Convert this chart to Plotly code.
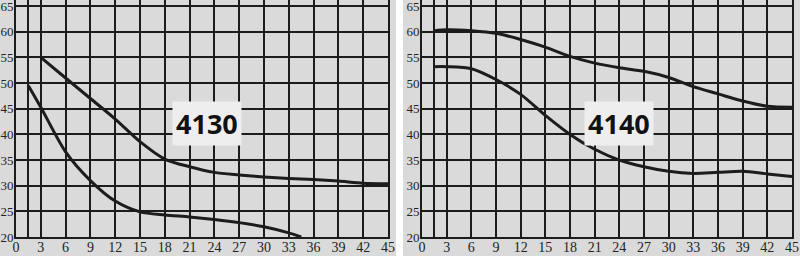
import plotly.graph_objects as go

# ---- data ----
x_4130_upper = [3, 6, 9, 12, 15, 18, 21, 24, 27, 30, 33, 36, 39, 42, 45]
y_4130_upper = [55, 51, 47, 43, 38.6, 35.2, 33.7, 32.6, 32.1, 31.7, 31.4, 31.2, 30.9, 30.5, 30.4]

x_4130_lower = [1.5, 3, 6, 9, 12, 15, 18, 21, 24, 27, 30, 33, 34.5]
y_4130_lower = [49.5, 45.3, 36.6, 31.0, 27.0, 24.9, 24.3, 23.9, 23.4, 22.8, 22.0, 20.8, 20.0]

x_4140_upper = [1.5, 3, 6, 9, 12, 15, 18, 21, 24, 27, 30, 33, 36, 39, 42, 45]
y_4140_upper = [60.2, 60.4, 60.2, 59.7, 58.5, 57.0, 55.2, 53.9, 53.0, 52.3, 51.1, 49.3, 47.9, 46.5, 45.5, 45.3]

x_4140_lower = [1.5, 3, 6, 9, 12, 15, 18, 21, 24, 27, 30, 33, 36, 39, 42, 45]
y_4140_lower = [53.2, 53.2, 52.8, 50.7, 47.8, 43.7, 40.0, 37.1, 35.0, 33.7, 32.8, 32.4, 32.6, 32.8, 32.3, 31.8]

x_ticks = [0, 3, 6, 9, 12, 15, 18, 21, 24, 27, 30, 33, 36, 39, 42, 45]
y_ticks = [20, 25, 30, 35, 40, 45, 50, 55, 60, 65]
labels = ["4130", "4140"]
label_pos = [(23.1, 42.2), (24.0, 42.2)]

W, H = 800, 256
INK = "#1c1c1c"
PAPER = "#dadada"

fig = go.Figure()
line_style = dict(color=INK, width=3, shape="spline", smoothing=0.8)
fig.add_trace(go.Scatter(x=x_4130_upper, y=y_4130_upper, mode="lines", line=line_style, xaxis="x", yaxis="y"))
fig.add_trace(go.Scatter(x=x_4130_lower, y=y_4130_lower, mode="lines", line=line_style, xaxis="x", yaxis="y"))
fig.add_trace(go.Scatter(x=x_4140_upper, y=y_4140_upper, mode="lines", line=line_style, xaxis="x2", yaxis="y2"))
fig.add_trace(go.Scatter(x=x_4140_lower, y=y_4140_lower, mode="lines", line=line_style, xaxis="x2", yaxis="y2"))

tick_font = dict(family="Liberation Serif", size=14, color="#222222")
ytick_font = dict(family="Liberation Serif", size=13, color="#222222")

def xaxis(domain, anchor):
    return dict(
        domain=domain, anchor=anchor, range=[0, 45], tickvals=x_ticks,
        showgrid=True, gridcolor=INK, gridwidth=2, zeroline=False,
        showline=True, linecolor=INK, linewidth=2, mirror=False,
        ticks="", tickfont=tick_font, automargin=False, ticklabelstandoff=-4,
        ticklabeloverflow="allow",
        minor=dict(tickvals=[1.5], showgrid=True, gridcolor=INK, gridwidth=2),
        fixedrange=True,
    )

def yaxis(anchor):
    return dict(
        domain=[0, 1], anchor=anchor, range=[20, 66.2], tickvals=y_ticks,
        showgrid=True, gridcolor=INK, gridwidth=2, zeroline=False,
        showline=True, linecolor=INK, linewidth=2, mirror=True,
        ticks="", tickfont=ytick_font, automargin=False, ticklabelstandoff=-2,
        ticklabeloverflow="allow",
        fixedrange=True,
    )

fig.update_layout(
    width=W, height=H,
    margin=dict(l=0, r=0, t=0, b=19),
    paper_bgcolor=PAPER, plot_bgcolor=PAPER,
    showlegend=False,
    xaxis=xaxis([16 / W, 388 / W], "y"),
    yaxis=yaxis("x"),
    xaxis2=xaxis([422 / W, 792 / W], "y2"),
    yaxis2=yaxis("x2"),
)

# white gap between the two scanned sheets
fig.add_shape(type="rect", xref="paper", yref="paper", x0=396 / W, x1=403 / W,
              y0=-0.2, y1=1.2, fillcolor="white", line_width=0, layer="above")

for i, (txt, (ax_x, ax_y)) in enumerate(zip(labels, label_pos)):
    sfx = "" if i == 0 else "2"
    fig.add_annotation(
        x=ax_x, y=ax_y, xref="x" + sfx, yref="y" + sfx, text="<b>" + txt + "</b>",
        showarrow=False, font=dict(family="Open Sans", size=27, color="#111111"),
        bgcolor="#eeeeee", borderpad=3,
    )

fig.write_html("out.html", config={"displayModeBar": False})
